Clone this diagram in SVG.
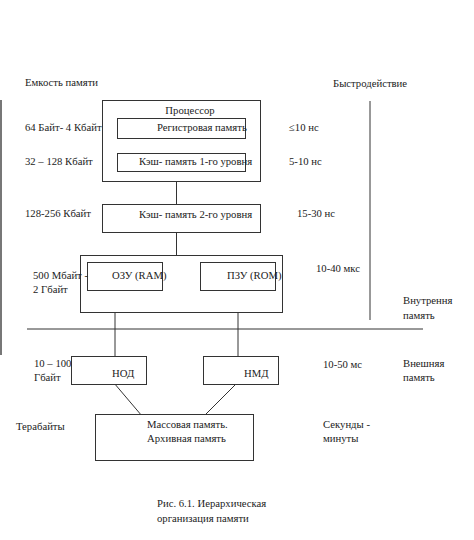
<svg xmlns="http://www.w3.org/2000/svg" width="474" height="540" viewBox="0 0 474 540">
<style>
text{font-family:"Liberation Serif","Times New Roman",serif;font-size:10.7px;fill:#222}
.b{fill:#fff;stroke:#333;stroke-width:1}
.l{stroke:#333;stroke-width:1;fill:none}
</style>
<rect width="474" height="540" fill="#fff"/>
<g id="axes">
<line x1="1" y1="100" x2="1" y2="355" stroke="#777" stroke-width="2"/>
<line class="l" x1="370" y1="101" x2="370" y2="320"/>
<line class="l" x1="27" y1="329" x2="423" y2="329"/>
</g>
<g id="connectors">
<line class="l" x1="176.5" y1="181" x2="176.5" y2="204"/>
<line class="l" x1="176.5" y1="232" x2="176.5" y2="258"/>
<line class="l" x1="115" y1="312" x2="115" y2="356"/>
<line class="l" x1="238" y1="312" x2="238" y2="356"/>
<line class="l" x1="114" y1="383" x2="142" y2="416"/>
<line class="l" x1="238" y1="382" x2="203" y2="417"/>
</g>
<g id="processor">
<rect class="b" x="102.5" y="100.5" width="158" height="81"/>
<text x="190" y="114" text-anchor="middle">Процессор</text>
</g>
<g id="registers">
<rect class="b" x="117.5" y="118.5" width="128" height="20"/>
<text x="157" y="131">Регистровая память</text>
</g>
<g id="cache1">
<rect class="b" x="117.5" y="153.5" width="128" height="18"/>
<text x="139" y="165">Кэш- память 1-го уровня</text>
</g>
<g id="cache2">
<rect class="b" x="102.5" y="204.5" width="158" height="28"/>
<text x="139" y="218">Кэш- память 2-го уровня</text>
</g>
<g id="main">
<rect class="b" x="80.5" y="255.5" width="202" height="57"/>
</g>
<g id="ram">
<rect class="b" x="87.5" y="262.5" width="75" height="28"/>
<text x="112" y="279">ОЗУ (RAM)</text>
</g>
<g id="rom">
<rect class="b" x="200.5" y="262.5" width="75" height="28"/>
<text x="227" y="279">ПЗУ (ROM)</text>
</g>
<g id="nod">
<rect class="b" x="71.5" y="356.5" width="75" height="28"/>
<text x="112" y="377">НОД</text>
</g>
<g id="nmd">
<rect class="b" x="203.5" y="356.5" width="75" height="28"/>
<text x="244" y="377">НМД</text>
</g>
<g id="mass">
<rect class="b" x="95.5" y="414.5" width="158" height="46"/>
<text x="147" y="428">Массовая память.</text>
<text x="147" y="442">Архивная память</text>
</g>
<g id="labels">
<text x="25" y="86">Емкость памяти</text>
<text x="333" y="87">Быстродействие</text>
<text x="25" y="131">64 Байт- 4 Кбайт</text>
<text x="25" y="165">32 – 128 Кбайт</text>
<text x="25" y="217">128-256 Кбайт</text>
<text x="33" y="279">500 Мбайт -</text>
<text x="33" y="293">2 Гбайт</text>
<text x="34" y="367">10 – 100</text>
<text x="34" y="381">Гбайт</text>
<text x="16" y="430">Терабайты</text>
<text x="289" y="131">≤10 нс</text>
<text x="289" y="165">5-10 нс</text>
<text x="297" y="217">15-30 нс</text>
<text x="316" y="272">10-40 мкс</text>
<text x="403" y="304">Внутрення</text>
<text x="403" y="319">память</text>
<text x="323" y="368">10-50 мс</text>
<text x="403" y="367">Внешняя</text>
<text x="403" y="381">память</text>
<text x="323" y="428">Секунды -</text>
<text x="323" y="442">минуты</text>
<text x="157" y="507">Рис. 6.1. Иерархическая</text>
<text x="157" y="522">организация памяти</text>
</g>
</svg>
